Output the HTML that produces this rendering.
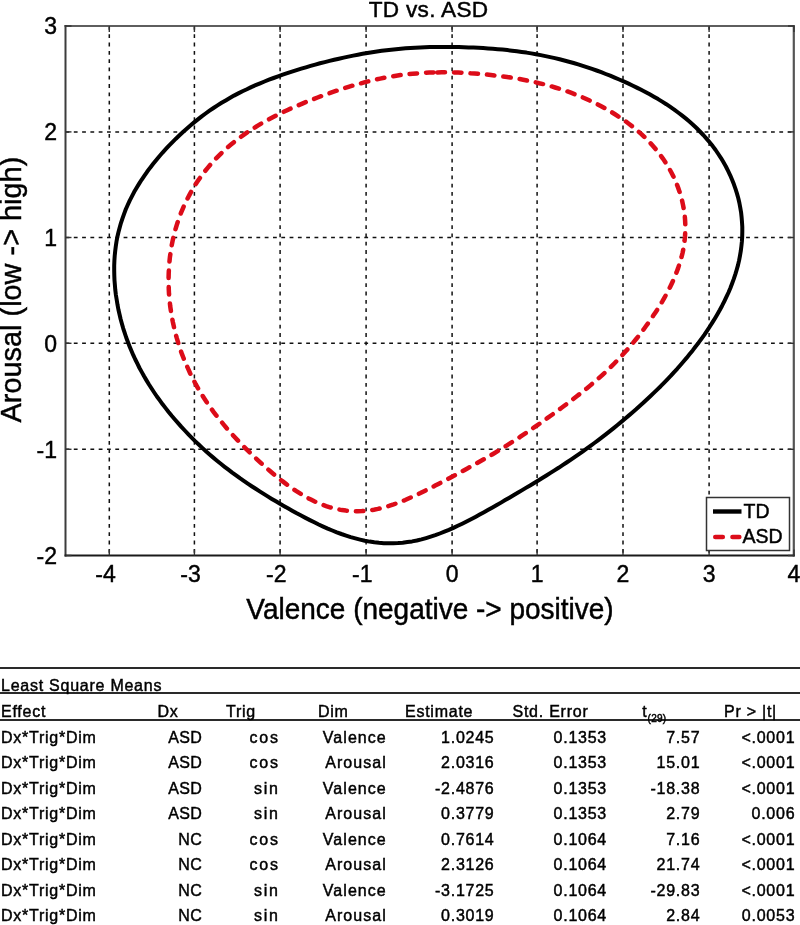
<!DOCTYPE html>
<html><head><meta charset="utf-8"><title>TD vs. ASD</title>
<style>
html,body{margin:0;padding:0;background:#fff;}
body{width:800px;height:925px;overflow:hidden;}
svg{display:block;}
text{font-family:"Liberation Sans", Arial, Helvetica, sans-serif;fill:#000;stroke:#000;stroke-width:0.45px;}
.tk{font-size:23px;}
.tb{font-size:16px;letter-spacing:0.75px;}
</style></head><body>
<svg width="800" height="925" viewBox="0 0 800 925">
<rect x="0" y="0" width="800" height="925" fill="#fff"/>
<g stroke="#111" stroke-width="1.5" stroke-dasharray="3.8 4.5" fill="none"><line x1="109.30" y1="26.0" x2="109.30" y2="555.5"/><line x1="194.40" y1="26.0" x2="194.40" y2="555.5"/><line x1="280.10" y1="26.0" x2="280.10" y2="555.5"/><line x1="366.10" y1="26.0" x2="366.10" y2="555.5"/><line x1="452.10" y1="26.0" x2="452.10" y2="555.5"/><line x1="537.10" y1="26.0" x2="537.10" y2="555.5"/><line x1="623.00" y1="26.0" x2="623.00" y2="555.5"/><line x1="709.10" y1="26.0" x2="709.10" y2="555.5"/><line x1="65.5" y1="449.30" x2="794.0" y2="449.30"/><line x1="65.5" y1="343.30" x2="794.0" y2="343.30"/><line x1="65.5" y1="237.50" x2="794.0" y2="237.50"/><line x1="65.5" y1="131.90" x2="794.0" y2="131.90"/></g>
<path d="M424.9,47.3 L429.7,47.1 L434.6,47.0 L439.4,46.9 L444.3,46.9 L449.1,46.9 L454.0,47.0 L458.8,47.1 L463.7,47.2 L468.6,47.4 L473.4,47.6 L478.3,47.8 L483.1,48.1 L488.0,48.4 L492.8,48.8 L497.7,49.2 L502.5,49.6 L507.3,50.1 L512.1,50.7 L516.9,51.3 L521.7,51.9 L526.5,52.6 L531.2,53.4 L536.0,54.2 L540.7,55.1 L545.5,56.1 L550.2,57.1 L554.9,58.1 L559.6,59.3 L564.3,60.5 L568.9,61.7 L573.6,63.0 L578.2,64.4 L582.8,65.9 L587.4,67.4 L592.0,68.9 L596.6,70.5 L601.2,72.2 L605.7,74.0 L610.2,75.7 L614.7,77.6 L619.2,79.5 L623.6,81.4 L628.1,83.4 L632.4,85.5 L636.8,87.6 L641.1,89.8 L645.4,92.0 L649.7,94.3 L653.9,96.7 L658.1,99.1 L662.2,101.6 L666.3,104.2 L670.3,106.9 L674.2,109.6 L678.1,112.5 L681.9,115.4 L685.7,118.4 L689.4,121.5 L693.0,124.7 L696.5,128.0 L699.9,131.5 L703.3,135.0 L706.5,138.6 L709.6,142.3 L712.7,146.1 L715.6,150.0 L718.3,154.0 L721.0,158.1 L723.5,162.3 L725.9,166.5 L728.1,170.9 L730.2,175.3 L732.1,179.8 L733.9,184.3 L735.5,188.9 L737.0,193.6 L738.3,198.3 L739.4,203.0 L740.3,207.8 L741.1,212.5 L741.6,217.3 L742.0,222.1 L742.3,226.9 L742.3,231.8 L742.2,236.6 L741.9,241.4 L741.4,246.1 L740.8,250.9 L740.0,255.6 L739.1,260.4 L738.0,265.1 L736.7,269.7 L735.3,274.4 L733.8,278.9 L732.1,283.5 L730.4,288.0 L728.5,292.5 L726.4,296.9 L724.3,301.3 L722.1,305.7 L719.8,310.0 L717.4,314.2 L714.9,318.4 L712.3,322.6 L709.7,326.7 L707.0,330.8 L704.3,334.8 L701.4,338.8 L698.6,342.7 L695.6,346.5 L692.7,350.4 L689.7,354.1 L686.6,357.9 L683.5,361.5 L680.3,365.2 L677.2,368.8 L673.9,372.3 L670.7,375.9 L667.4,379.3 L664.0,382.8 L660.7,386.2 L657.2,389.6 L653.8,392.9 L650.3,396.2 L646.8,399.5 L643.3,402.8 L639.7,406.0 L636.1,409.3 L632.4,412.5 L628.7,415.6 L625.0,418.8 L621.3,421.9 L617.5,425.0 L613.7,428.1 L609.9,431.1 L606.1,434.1 L602.2,437.1 L598.3,440.1 L594.4,443.0 L590.5,445.9 L586.6,448.7 L582.6,451.6 L578.6,454.3 L574.6,457.1 L570.6,459.8 L566.6,462.5 L562.6,465.1 L558.6,467.8 L554.5,470.4 L550.5,472.9 L546.4,475.5 L542.3,478.0 L538.3,480.5 L534.2,483.0 L530.1,485.4 L525.9,487.9 L521.8,490.4 L517.7,492.8 L513.5,495.3 L509.4,497.7 L505.2,500.1 L501.0,502.6 L496.8,505.0 L492.5,507.4 L488.3,509.8 L484.0,512.2 L479.7,514.6 L475.4,516.9 L471.0,519.2 L466.6,521.5 L462.2,523.7 L457.8,525.8 L453.4,527.9 L448.9,529.9 L444.4,531.7 L439.8,533.5 L435.3,535.2 L430.7,536.7 L426.1,538.1 L421.5,539.4 L416.8,540.5 L412.1,541.4 L407.4,542.1 L402.7,542.7 L398.0,543.1 L393.3,543.3 L388.5,543.3 L383.8,543.2 L379.0,542.8 L374.3,542.3 L369.6,541.6 L364.8,540.7 L360.1,539.6 L355.4,538.4 L350.7,537.1 L346.1,535.6 L341.4,534.0 L336.8,532.3 L332.3,530.5 L327.7,528.6 L323.2,526.6 L318.7,524.5 L314.3,522.3 L309.9,520.1 L305.5,517.9 L301.1,515.6 L296.8,513.3 L292.6,510.9 L288.4,508.6 L284.2,506.2 L280.0,503.8 L275.9,501.3 L271.8,498.9 L267.7,496.4 L263.7,493.9 L259.7,491.4 L255.7,488.8 L251.7,486.2 L247.8,483.6 L243.8,480.9 L239.9,478.2 L236.1,475.4 L232.2,472.6 L228.4,469.7 L224.6,466.8 L220.8,463.8 L217.0,460.7 L213.3,457.6 L209.6,454.4 L205.9,451.2 L202.3,447.9 L198.7,444.5 L195.1,441.1 L191.6,437.6 L188.2,434.1 L184.8,430.5 L181.4,426.9 L178.1,423.2 L174.9,419.5 L171.7,415.8 L168.6,412.0 L165.6,408.1 L162.6,404.3 L159.8,400.4 L156.9,396.5 L154.2,392.5 L151.6,388.5 L149.0,384.5 L146.5,380.4 L144.1,376.3 L141.8,372.1 L139.5,368.0 L137.4,363.7 L135.3,359.5 L133.3,355.2 L131.4,350.8 L129.6,346.4 L127.9,342.0 L126.2,337.5 L124.7,332.9 L123.2,328.3 L121.9,323.7 L120.6,319.0 L119.5,314.2 L118.4,309.5 L117.5,304.7 L116.7,299.8 L115.9,295.0 L115.3,290.1 L114.9,285.2 L114.5,280.3 L114.3,275.4 L114.2,270.5 L114.2,265.6 L114.4,260.7 L114.7,255.9 L115.2,251.0 L115.8,246.2 L116.5,241.5 L117.4,236.7 L118.5,232.0 L119.7,227.4 L121.0,222.8 L122.5,218.3 L124.1,213.8 L125.8,209.3 L127.7,205.0 L129.7,200.6 L131.9,196.4 L134.1,192.1 L136.5,188.0 L139.0,183.9 L141.6,179.8 L144.3,175.8 L147.1,171.8 L150.0,167.9 L153.0,164.1 L156.1,160.3 L159.2,156.5 L162.4,152.8 L165.7,149.2 L169.0,145.6 L172.5,142.1 L175.9,138.7 L179.5,135.3 L183.0,132.0 L186.7,128.7 L190.4,125.5 L194.1,122.4 L197.9,119.4 L201.7,116.4 L205.6,113.5 L209.5,110.7 L213.5,108.0 L217.5,105.4 L221.6,102.8 L225.7,100.4 L229.8,98.0 L234.0,95.6 L238.3,93.4 L242.5,91.2 L246.9,89.2 L251.2,87.1 L255.6,85.2 L260.1,83.3 L264.5,81.5 L269.0,79.7 L273.6,78.0 L278.1,76.3 L282.7,74.7 L287.3,73.1 L291.9,71.6 L296.6,70.1 L301.3,68.7 L305.9,67.3 L310.6,65.9 L315.3,64.6 L320.0,63.3 L324.8,62.1 L329.5,60.9 L334.2,59.8 L338.9,58.7 L343.7,57.6 L348.4,56.6 L353.2,55.6 L357.9,54.7 L362.6,53.8 L367.4,53.0 L372.2,52.2 L376.9,51.5 L381.7,50.8 L386.5,50.2 L391.2,49.7 L396.0,49.2 L400.8,48.7 L405.6,48.3 L410.4,48.0 L415.2,47.7 L420.1,47.5 Z" fill="none" stroke="#000" stroke-width="4" stroke-linejoin="round"/>
<path d="M437.5,72.4 L441.7,72.3 L445.8,72.3 L449.9,72.4 L454.1,72.5 L458.2,72.6 L462.3,72.8 L466.4,73.0 L470.5,73.3 L474.6,73.5 L478.7,73.8 L482.8,74.2 L486.8,74.6 L490.9,75.0 L494.9,75.5 L499.0,75.9 L503.0,76.5 L507.1,77.0 L511.1,77.6 L515.1,78.3 L519.2,79.0 L523.2,79.7 L527.2,80.5 L531.2,81.3 L535.2,82.2 L539.2,83.2 L543.2,84.1 L547.2,85.2 L551.2,86.3 L555.1,87.5 L559.1,88.7 L563.0,90.0 L567.0,91.3 L570.9,92.7 L574.8,94.2 L578.6,95.7 L582.5,97.3 L586.3,99.0 L590.0,100.7 L593.8,102.5 L597.5,104.3 L601.2,106.2 L604.8,108.2 L608.4,110.2 L611.9,112.3 L615.4,114.5 L618.8,116.7 L622.2,119.0 L625.6,121.3 L628.8,123.7 L632.1,126.2 L635.2,128.8 L638.3,131.4 L641.4,134.1 L644.3,136.9 L647.2,139.8 L650.0,142.7 L652.8,145.7 L655.4,148.8 L658.0,152.0 L660.5,155.3 L662.9,158.6 L665.2,162.0 L667.4,165.5 L669.5,169.1 L671.5,172.7 L673.4,176.4 L675.1,180.2 L676.7,184.0 L678.2,187.9 L679.6,191.9 L680.8,195.8 L681.9,199.9 L682.8,203.9 L683.6,208.0 L684.3,212.1 L684.8,216.2 L685.1,220.3 L685.3,224.4 L685.4,228.5 L685.2,232.6 L685.0,236.7 L684.6,240.7 L684.0,244.8 L683.4,248.8 L682.6,252.8 L681.6,256.7 L680.5,260.6 L679.3,264.5 L678.0,268.4 L676.6,272.2 L675.1,276.0 L673.5,279.8 L671.8,283.5 L670.0,287.2 L668.2,290.8 L666.2,294.5 L664.2,298.1 L662.2,301.6 L660.0,305.2 L657.9,308.7 L655.6,312.2 L653.3,315.6 L651.0,319.1 L648.6,322.5 L646.2,325.8 L643.8,329.2 L641.3,332.5 L638.7,335.8 L636.2,339.0 L633.6,342.2 L630.9,345.4 L628.2,348.5 L625.5,351.6 L622.8,354.6 L620.0,357.7 L617.1,360.6 L614.3,363.5 L611.4,366.4 L608.4,369.3 L605.5,372.1 L602.5,374.8 L599.4,377.6 L596.4,380.3 L593.3,382.9 L590.1,385.6 L587.0,388.2 L583.8,390.7 L580.6,393.3 L577.4,395.8 L574.2,398.3 L570.9,400.8 L567.6,403.3 L564.3,405.8 L561.0,408.2 L557.7,410.7 L554.4,413.1 L551.0,415.5 L547.6,417.9 L544.3,420.3 L540.9,422.7 L537.5,425.1 L534.1,427.4 L530.7,429.8 L527.3,432.1 L523.8,434.4 L520.4,436.7 L517.0,439.0 L513.5,441.2 L510.0,443.4 L506.6,445.6 L503.1,447.8 L499.6,449.9 L496.1,452.1 L492.6,454.2 L489.1,456.2 L485.6,458.3 L482.0,460.3 L478.5,462.3 L474.9,464.3 L471.4,466.3 L467.8,468.2 L464.2,470.2 L460.6,472.1 L457.1,474.1 L453.4,476.0 L449.8,478.0 L446.2,479.9 L442.6,481.8 L438.9,483.7 L435.2,485.6 L431.5,487.5 L427.8,489.4 L424.1,491.2 L420.4,493.1 L416.6,494.9 L412.8,496.6 L409.0,498.3 L405.2,500.0 L401.4,501.5 L397.5,503.0 L393.6,504.4 L389.7,505.7 L385.8,506.9 L381.8,507.9 L377.9,508.9 L373.9,509.7 L369.9,510.3 L365.9,510.8 L361.9,511.1 L357.9,511.2 L353.9,511.2 L349.9,511.0 L345.9,510.6 L341.9,510.1 L337.9,509.3 L334.0,508.4 L330.0,507.3 L326.1,506.1 L322.3,504.7 L318.5,503.1 L314.7,501.5 L310.9,499.6 L307.2,497.7 L303.6,495.6 L300.0,493.4 L296.4,491.2 L292.9,488.8 L289.4,486.4 L286.0,483.9 L282.7,481.4 L279.4,478.8 L276.1,476.2 L272.9,473.5 L269.7,470.8 L266.6,468.1 L263.5,465.4 L260.5,462.6 L257.5,459.8 L254.5,457.0 L251.6,454.2 L248.7,451.4 L245.8,448.6 L242.9,445.7 L240.1,442.8 L237.3,439.9 L234.6,437.0 L231.9,434.0 L229.2,431.0 L226.5,428.0 L223.9,424.9 L221.3,421.7 L218.7,418.6 L216.2,415.3 L213.7,412.1 L211.3,408.8 L208.9,405.4 L206.6,402.0 L204.3,398.5 L202.1,395.0 L199.9,391.4 L197.8,387.8 L195.7,384.2 L193.8,380.5 L191.9,376.8 L190.0,373.0 L188.3,369.2 L186.6,365.4 L184.9,361.6 L183.4,357.7 L181.9,353.9 L180.5,350.0 L179.2,346.0 L178.0,342.1 L176.8,338.2 L175.7,334.2 L174.7,330.2 L173.8,326.3 L172.9,322.3 L172.1,318.3 L171.4,314.3 L170.8,310.2 L170.2,306.2 L169.8,302.2 L169.4,298.1 L169.0,294.0 L168.8,290.0 L168.7,285.9 L168.6,281.8 L168.6,277.7 L168.7,273.6 L168.9,269.5 L169.1,265.4 L169.5,261.3 L169.9,257.2 L170.5,253.1 L171.1,249.0 L171.8,244.9 L172.6,240.9 L173.5,236.8 L174.5,232.8 L175.6,228.8 L176.8,224.9 L178.1,220.9 L179.5,217.0 L180.9,213.2 L182.5,209.4 L184.1,205.6 L185.9,201.9 L187.7,198.2 L189.6,194.6 L191.6,191.0 L193.7,187.5 L195.8,184.0 L198.1,180.6 L200.4,177.3 L202.8,174.0 L205.3,170.8 L207.9,167.6 L210.5,164.5 L213.2,161.5 L216.0,158.5 L218.9,155.6 L221.8,152.7 L224.8,150.0 L227.8,147.2 L231.0,144.6 L234.1,142.0 L237.4,139.5 L240.7,137.0 L244.0,134.6 L247.4,132.3 L250.8,130.0 L254.3,127.8 L257.8,125.6 L261.4,123.5 L265.0,121.5 L268.6,119.5 L272.3,117.5 L275.9,115.6 L279.7,113.8 L283.4,112.0 L287.1,110.2 L290.9,108.5 L294.7,106.8 L298.5,105.2 L302.3,103.6 L306.1,102.0 L309.9,100.5 L313.8,99.0 L317.6,97.5 L321.4,96.1 L325.3,94.7 L329.1,93.3 L333.0,91.9 L336.9,90.6 L340.7,89.3 L344.6,88.1 L348.5,86.9 L352.4,85.7 L356.4,84.6 L360.3,83.5 L364.2,82.4 L368.2,81.4 L372.2,80.4 L376.1,79.5 L380.2,78.6 L384.2,77.8 L388.2,77.1 L392.3,76.4 L396.3,75.7 L400.4,75.1 L404.5,74.6 L408.6,74.1 L412.7,73.7 L416.8,73.4 L421.0,73.1 L425.1,72.8 L429.2,72.6 L433.4,72.5 Z" fill="none" stroke="#dc0c19" stroke-width="4.5" stroke-linecap="round" stroke-dasharray="7.5 9"/>
<g fill="none" stroke-linecap="square"><line x1="65.5" y1="26" x2="793.8" y2="26" stroke="#5e5e5e" stroke-width="2"/><line x1="793.8" y1="26" x2="793.8" y2="555.5" stroke="#555" stroke-width="2.2"/><line x1="65.5" y1="26" x2="65.5" y2="555.5" stroke="#3c3c3c" stroke-width="2"/><line x1="65.5" y1="555.5" x2="793.8" y2="555.5" stroke="#1a1a1a" stroke-width="1.8"/></g>
<g stroke="#333" stroke-width="1.4"><line x1="109.30" y1="555.5" x2="109.30" y2="549.5"/><line x1="109.30" y1="26.0" x2="109.30" y2="32.0"/><line x1="194.40" y1="555.5" x2="194.40" y2="549.5"/><line x1="194.40" y1="26.0" x2="194.40" y2="32.0"/><line x1="280.10" y1="555.5" x2="280.10" y2="549.5"/><line x1="280.10" y1="26.0" x2="280.10" y2="32.0"/><line x1="366.10" y1="555.5" x2="366.10" y2="549.5"/><line x1="366.10" y1="26.0" x2="366.10" y2="32.0"/><line x1="452.10" y1="555.5" x2="452.10" y2="549.5"/><line x1="452.10" y1="26.0" x2="452.10" y2="32.0"/><line x1="537.10" y1="555.5" x2="537.10" y2="549.5"/><line x1="537.10" y1="26.0" x2="537.10" y2="32.0"/><line x1="623.00" y1="555.5" x2="623.00" y2="549.5"/><line x1="623.00" y1="26.0" x2="623.00" y2="32.0"/><line x1="709.10" y1="555.5" x2="709.10" y2="549.5"/><line x1="709.10" y1="26.0" x2="709.10" y2="32.0"/><line x1="794.00" y1="555.5" x2="794.00" y2="549.5"/><line x1="794.00" y1="26.0" x2="794.00" y2="32.0"/><line x1="65.5" y1="555.50" x2="71.5" y2="555.50"/><line x1="794.0" y1="555.50" x2="788.0" y2="555.50"/><line x1="65.5" y1="449.30" x2="71.5" y2="449.30"/><line x1="794.0" y1="449.30" x2="788.0" y2="449.30"/><line x1="65.5" y1="343.30" x2="71.5" y2="343.30"/><line x1="794.0" y1="343.30" x2="788.0" y2="343.30"/><line x1="65.5" y1="237.50" x2="71.5" y2="237.50"/><line x1="794.0" y1="237.50" x2="788.0" y2="237.50"/><line x1="65.5" y1="131.90" x2="71.5" y2="131.90"/><line x1="794.0" y1="131.90" x2="788.0" y2="131.90"/><line x1="65.5" y1="26.00" x2="71.5" y2="26.00"/><line x1="794.0" y1="26.00" x2="788.0" y2="26.00"/></g>
<rect x="706.5" y="497.5" width="83" height="53" fill="#fff" stroke="#333" stroke-width="1.5"/>
<line x1="713" y1="511.5" x2="741.5" y2="511.5" stroke="#000" stroke-width="4.4"/>
<g stroke="#dc0c19" stroke-width="4.6" stroke-linecap="round"><line x1="715.3" y1="537" x2="722.8" y2="537"/><line x1="732.5" y1="537" x2="739.3" y2="537"/></g>
<text x="743.5" y="518" style="font-size:19.5px">TD</text>
<text x="742.5" y="543.3" style="font-size:19.5px">ASD</text>
<text class="tk" x="115.70" y="582.3" text-anchor="end">-4</text><text class="tk" x="200.80" y="582.3" text-anchor="end">-3</text><text class="tk" x="286.50" y="582.3" text-anchor="end">-2</text><text class="tk" x="372.50" y="582.3" text-anchor="end">-1</text><text class="tk" x="452.10" y="582.3" text-anchor="middle">0</text><text class="tk" x="537.10" y="582.3" text-anchor="middle">1</text><text class="tk" x="623.00" y="582.3" text-anchor="middle">2</text><text class="tk" x="709.10" y="582.3" text-anchor="middle">3</text><text class="tk" x="794.00" y="582.3" text-anchor="middle">4</text>
<text class="tk" x="57" y="563.80" text-anchor="end">-2</text><text class="tk" x="57" y="457.60" text-anchor="end">-1</text><text class="tk" x="57" y="351.60" text-anchor="end">0</text><text class="tk" x="57" y="245.80" text-anchor="end">1</text><text class="tk" x="57" y="140.20" text-anchor="end">2</text><text class="tk" x="57" y="34.30" text-anchor="end">3</text>
<text x="428.6" y="17.2" text-anchor="middle" style="font-size:22.6px;letter-spacing:0.3px">TD vs. ASD</text>
<text transform="translate(430,619.2) scale(1,1.03)" text-anchor="middle" style="font-size:28px">Valence (negative -&gt; positive)</text>
<text transform="translate(21.3,289.6) rotate(-90)" text-anchor="middle" style="font-size:28.9px">Arousal (low -&gt; high)</text>
<g stroke="#2a2a2a" stroke-width="1.8"><line x1="0" y1="668" x2="800" y2="668"/><line x1="0" y1="693" x2="800" y2="693"/><line x1="0" y1="720" x2="800" y2="720"/></g>
<text class="tb" x="1" y="690.5">Least Square Means</text>
<text class="tb" x="1" y="717.4">Effect</text><text class="tb" x="157.5" y="717.4">Dx</text><text class="tb" x="226" y="717.4">Trig</text><text class="tb" x="318" y="717.4">Dim</text><text class="tb" x="405" y="717.4">Estimate</text><text class="tb" x="512.5" y="717.4">Std. Error</text><text class="tb" x="724" y="717.4">Pr &gt; |t|</text><text class="tb" x="642.3" y="717.4">t<tspan style="font-size:10px;letter-spacing:0.3px" dy="4.5">(29)</tspan></text>
<text class="tb" x="1" y="743.00">Dx*Trig*Dim</text><text class="tb" x="202.0" y="743.00" text-anchor="end" style="letter-spacing:0.3px">ASD</text><text class="tb" x="279.8" y="743.00" text-anchor="end" style="letter-spacing:1.8px">cos</text><text class="tb" x="386.8" y="743.00" text-anchor="end" style="letter-spacing:1.05px">Valence</text><text class="tb" x="494.5" y="743.00" text-anchor="end">1.0245</text><text class="tb" x="607" y="743.00" text-anchor="end">0.1353</text><text class="tb" x="700.3" y="743.00" text-anchor="end">7.57</text><text class="tb" x="795.3" y="743.00" text-anchor="end">&lt;.0001</text>
<text class="tb" x="1" y="768.45">Dx*Trig*Dim</text><text class="tb" x="202.0" y="768.45" text-anchor="end" style="letter-spacing:0.3px">ASD</text><text class="tb" x="279.8" y="768.45" text-anchor="end" style="letter-spacing:1.8px">cos</text><text class="tb" x="386.8" y="768.45" text-anchor="end" style="letter-spacing:1.05px">Arousal</text><text class="tb" x="494.5" y="768.45" text-anchor="end">2.0316</text><text class="tb" x="607" y="768.45" text-anchor="end">0.1353</text><text class="tb" x="700.3" y="768.45" text-anchor="end">15.01</text><text class="tb" x="795.3" y="768.45" text-anchor="end">&lt;.0001</text>
<text class="tb" x="1" y="793.90">Dx*Trig*Dim</text><text class="tb" x="202.0" y="793.90" text-anchor="end" style="letter-spacing:0.3px">ASD</text><text class="tb" x="279.8" y="793.90" text-anchor="end" style="letter-spacing:1.8px">sin</text><text class="tb" x="386.8" y="793.90" text-anchor="end" style="letter-spacing:1.05px">Valence</text><text class="tb" x="494.5" y="793.90" text-anchor="end">-2.4876</text><text class="tb" x="607" y="793.90" text-anchor="end">0.1353</text><text class="tb" x="700.3" y="793.90" text-anchor="end">-18.38</text><text class="tb" x="795.3" y="793.90" text-anchor="end">&lt;.0001</text>
<text class="tb" x="1" y="819.35">Dx*Trig*Dim</text><text class="tb" x="202.0" y="819.35" text-anchor="end" style="letter-spacing:0.3px">ASD</text><text class="tb" x="279.8" y="819.35" text-anchor="end" style="letter-spacing:1.8px">sin</text><text class="tb" x="386.8" y="819.35" text-anchor="end" style="letter-spacing:1.05px">Arousal</text><text class="tb" x="494.5" y="819.35" text-anchor="end">0.3779</text><text class="tb" x="607" y="819.35" text-anchor="end">0.1353</text><text class="tb" x="700.3" y="819.35" text-anchor="end">2.79</text><text class="tb" x="795.3" y="819.35" text-anchor="end">0.006</text>
<text class="tb" x="1" y="844.80">Dx*Trig*Dim</text><text class="tb" x="202.0" y="844.80" text-anchor="end" style="letter-spacing:0.3px">NC</text><text class="tb" x="279.8" y="844.80" text-anchor="end" style="letter-spacing:1.8px">cos</text><text class="tb" x="386.8" y="844.80" text-anchor="end" style="letter-spacing:1.05px">Valence</text><text class="tb" x="494.5" y="844.80" text-anchor="end">0.7614</text><text class="tb" x="607" y="844.80" text-anchor="end">0.1064</text><text class="tb" x="700.3" y="844.80" text-anchor="end">7.16</text><text class="tb" x="795.3" y="844.80" text-anchor="end">&lt;.0001</text>
<text class="tb" x="1" y="870.25">Dx*Trig*Dim</text><text class="tb" x="202.0" y="870.25" text-anchor="end" style="letter-spacing:0.3px">NC</text><text class="tb" x="279.8" y="870.25" text-anchor="end" style="letter-spacing:1.8px">cos</text><text class="tb" x="386.8" y="870.25" text-anchor="end" style="letter-spacing:1.05px">Arousal</text><text class="tb" x="494.5" y="870.25" text-anchor="end">2.3126</text><text class="tb" x="607" y="870.25" text-anchor="end">0.1064</text><text class="tb" x="700.3" y="870.25" text-anchor="end">21.74</text><text class="tb" x="795.3" y="870.25" text-anchor="end">&lt;.0001</text>
<text class="tb" x="1" y="895.70">Dx*Trig*Dim</text><text class="tb" x="202.0" y="895.70" text-anchor="end" style="letter-spacing:0.3px">NC</text><text class="tb" x="279.8" y="895.70" text-anchor="end" style="letter-spacing:1.8px">sin</text><text class="tb" x="386.8" y="895.70" text-anchor="end" style="letter-spacing:1.05px">Valence</text><text class="tb" x="494.5" y="895.70" text-anchor="end">-3.1725</text><text class="tb" x="607" y="895.70" text-anchor="end">0.1064</text><text class="tb" x="700.3" y="895.70" text-anchor="end">-29.83</text><text class="tb" x="795.3" y="895.70" text-anchor="end">&lt;.0001</text>
<text class="tb" x="1" y="921.15">Dx*Trig*Dim</text><text class="tb" x="202.0" y="921.15" text-anchor="end" style="letter-spacing:0.3px">NC</text><text class="tb" x="279.8" y="921.15" text-anchor="end" style="letter-spacing:1.8px">sin</text><text class="tb" x="386.8" y="921.15" text-anchor="end" style="letter-spacing:1.05px">Arousal</text><text class="tb" x="494.5" y="921.15" text-anchor="end">0.3019</text><text class="tb" x="607" y="921.15" text-anchor="end">0.1064</text><text class="tb" x="700.3" y="921.15" text-anchor="end">2.84</text><text class="tb" x="795.3" y="921.15" text-anchor="end">0.0053</text>
</svg>
</body></html>
